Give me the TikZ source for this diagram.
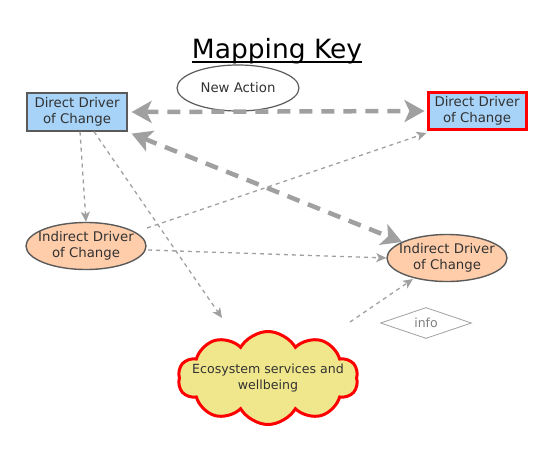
\documentclass[tikz,border=0pt]{standalone}
\usepackage{fontspec}
\setmainfont{DejaVu Sans}
\usetikzlibrary{arrows.meta,shapes.geometric,shapes.symbols}
\definecolor{ddblue}{RGB}{166,211,247}
\definecolor{peach}{RGB}{255,205,170}
\definecolor{khaki}{RGB}{240,230,140}
\definecolor{edgegray}{RGB}{160,160,160}
\definecolor{strk}{RGB}{90,90,90}
\definecolor{txt}{RGB}{50,50,50}
\tikzset{
  nfont/.style={font=\fontsize{13.3}{16}\selectfont,text=txt},
  ddbox/.style={rectangle,draw=strk,line width=1.2pt,fill=ddblue,minimum width=100pt,minimum height=38pt,inner sep=1pt,align=center,nfont},
  idell/.style={ellipse,draw=strk,line width=1.4pt,fill=peach,minimum width=120pt,minimum height=47pt,inner xsep=-5.5pt,inner ysep=0pt,align=center,nfont},
  thickarrow/.style={draw=edgegray,line width=4.5pt,dash pattern=on 13pt off 9pt,{Stealth[length=20pt,width=22pt,inset=5pt]}-{Stealth[length=20pt,width=22pt,inset=5pt]}},
  thinarrow/.style={draw=edgegray,line width=1.3pt,dash pattern=on 4pt off 4pt,-{Stealth[length=10pt,width=9pt,inset=2.5pt]}},
}
\begin{document}
\begin{tikzpicture}[x=1pt,y=-1pt]
\useasboundingbox (0,0) rectangle (554,455);
% title
\node[anchor=base,font=\fontsize{26.5}{30}\selectfont,inner sep=0pt] (title) at (277,58) {Mapping Key};
\draw[line width=1.6pt] (192,62) -- (362,62);
% nodes
\node[ellipse,draw=strk,line width=1.2pt,minimum width=122pt,minimum height=46pt,inner sep=0pt,nfont] (na) at (238,88) {New Action};
\node[ddbox] (ddl) at (77,112) {Direct Driver\\of Change};
\node[ddbox,draw=red,line width=3pt,minimum width=98pt,minimum height=37pt] (ddr) at (477,111) {Direct Driver\\of Change};
\node[idell] (idl) at (86,246) {Indirect Driver\\of Change};
\node[idell] (idr) at (447,258) {Indirect Driver\\of Change};
\node[cloud,cloud puffs=10,cloud puff arc=120,aspect=1.94,draw=red,line width=3pt,fill=khaki,minimum width=180pt,minimum height=93pt,inner sep=0pt] (eco) at (268,378) {};
\node[align=center,font=\fontsize{12.6}{15.5}\selectfont,text=txt,inner sep=0pt] (ecotext) at (268,378) {Ecosystem services and\\wellbeing};
\node[diamond,aspect=3,draw=edgegray,line width=0.8pt,minimum width=91pt,minimum height=31pt,inner sep=0pt,font=\fontsize{12.5}{14}\selectfont,text=gray] (info) at (426,323) {info};
% coordinates for connector ends
\coordinate (ecotop) at (222,318);
\coordinate (free) at (350,322);
% connectors
\draw[thickarrow] ([xshift=4pt]ddl.east) -- ([xshift=-2pt]ddr.west);
\draw[thickarrow] ([shift={(4,2)}]ddl.south east) -- (402,242);
\draw[thinarrow] ([xshift=3pt]ddl.south) -- (idl.north);
\draw[thinarrow] ([xshift=17pt]ddl.south) -- (ecotop);
\draw[thinarrow] (147,228) -- ([yshift=-2pt]ddr.south west);
\draw[thinarrow] (148,250) -- (idr.west);
\draw[thinarrow] (free) -- (413,279);
\end{tikzpicture}
\end{document}
